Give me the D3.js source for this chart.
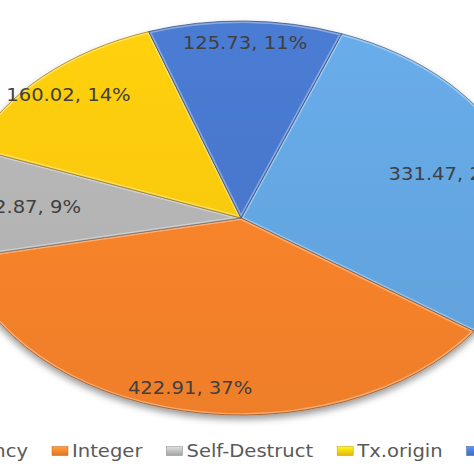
<!DOCTYPE html>
<html>
<head>
<meta charset="utf-8">
<script src="https://cdn.jsdelivr.net/npm/d3@7"></script>
<style>
  body { margin: 0; background: #fff; }
  text { font-family: "DejaVu Sans", Verdana, sans-serif; }
</style>
</head>
<body>
<div id="chart"></div>
<script>
var categories = ["Reentrancy", "Integer", "Self-Destruct", "Tx.origin", "Timestamp"];
var values = [331.47, 422.91, 102.87, 160.02, 125.73];
var colors = ["#64a7e3", "#f9832c", "#b5b5b5", "#ffca10", "#4878cd"];

// how far out each data label sits (fraction of radius), excel "best fit"
var labelFit = [0.77, 0.88, 0.76, 0.87, 0.89];

var width = 474, height = 474;
var cx = 241, cy = 218;
var rx = 285, ry = 197;
var stretch = 1.12;   // the picture is wider than tall, text too
var startAngle = 20.7 * Math.PI / 180;

var total = d3.sum(values);
var fmtVal = d3.format(".2f"),
    fmtPct = d3.format(".0%");

var data = categories.map(function(c, i) {
  return {name: c, value: values[i], color: colors[i], fit: labelFit[i]};
});

var svg = d3.select("#chart").append("svg")
    .attr("width", width)
    .attr("height", height);

var defs = svg.append("defs");

var shadow = defs.append("filter")
    .attr("id", "shadow")
    .attr("x", "-20%").attr("y", "-20%")
    .attr("width", "140%").attr("height", "140%");
shadow.append("feDropShadow")
    .attr("dx", 0).attr("dy", 4)
    .attr("stdDeviation", 3.5)
    .attr("flood-color", "#000")
    .attr("flood-opacity", 0.4);

data.forEach(function(d, i) {
  var g = defs.append("linearGradient")
      .attr("id", "grad" + i)
      .attr("gradientUnits", "userSpaceOnUse")
      .attr("x1", 0).attr("y1", -rx)
      .attr("x2", 0).attr("y2", rx);
  g.append("stop").attr("offset", "0%").attr("stop-color", d3.color(d.color).brighter(0.1));
  g.append("stop").attr("offset", "100%").attr("stop-color", d3.color(d.color).darker(0.12));

  var m = defs.append("linearGradient")
      .attr("id", "mark" + i)
      .attr("x1", 0).attr("y1", 0).attr("x2", 0).attr("y2", 1);
  m.append("stop").attr("offset", "0%").attr("stop-color", d3.color(d.color).brighter(0.6));
  m.append("stop").attr("offset", "100%").attr("stop-color", d3.color(d.color).darker(0.3));
});

var pie = d3.pie()
    .sort(null)
    .value(function(d) { return d.value; })
    .startAngle(startAngle)
    .endAngle(startAngle + 2 * Math.PI);

var arc = d3.arc()
    .innerRadius(0)
    .outerRadius(rx);

var arcs = pie(data);

var outer = svg.append("g")
    .attr("transform", "translate(" + cx + "," + cy + ")")
    .attr("filter", "url(#shadow)");

var pieG = outer.append("g")
    .attr("transform", "scale(1," + (ry / rx) + ")");

arcs.forEach(function(d, i) {
  defs.append("clipPath")
      .attr("id", "clip" + i)
      .append("path")
      .attr("d", arc(d));
});

var slice = pieG.selectAll(".slice")
    .data(arcs)
  .enter().append("g")
    .attr("class", "slice");

slice.append("path")
    .attr("d", arc)
    .attr("fill", function(d, i) { return "url(#grad" + i + ")"; });

// soft bevel rim inside each slice
slice.append("path")
    .attr("d", arc)
    .attr("fill", "none")
    .attr("clip-path", function(d, i) { return "url(#clip" + i + ")"; })
    .attr("stroke", "#fff")
    .attr("stroke-opacity", 0.35)
    .attr("stroke-width", 4)
    .attr("vector-effect", "non-scaling-stroke");

slice.append("path")
    .attr("d", arc)
    .attr("fill", "none")
    .attr("stroke", function(d) { return d3.color(d.data.color).darker(1.4); })
    .attr("stroke-opacity", 0.75)
    .attr("stroke-width", 1)
    .attr("vector-effect", "non-scaling-stroke");

// data labels
var labels = svg.append("g")
    .attr("transform", "translate(" + cx + "," + cy + ")");

labels.selectAll("g")
    .data(arcs)
  .enter().append("g")
    .attr("transform", function(d) {
      var r = rx * d.data.fit;
      var c = d3.arc().innerRadius(r).outerRadius(r).centroid(d);
      return "translate(" + c[0] + "," + (c[1] * ry / rx) + ") scale(" + stretch + ",1)";
    })
  .append("text")
    .attr("text-anchor", "middle")
    .attr("dy", "0.36em")
    .attr("fill", "#404040")
    .style("font-size", "17.5px")
    .text(function(d) { return fmtVal(d.value) + ", " + fmtPct(d.value / total); });

// legend
var legend = svg.append("g").attr("class", "legend");
var markW = 16, markH = 9, markGap = 4, itemGap = 24;

var items = legend.selectAll("g")
    .data(data)
  .enter().append("g");

items.append("rect")
    .attr("width", markW)
    .attr("height", markH)
    .attr("y", -markH / 2)
    .attr("fill", function(d, i) { return "url(#mark" + i + ")"; })
    .attr("stroke", function(d) { return d3.color(d.color).darker(0.8); })
    .attr("stroke-width", 0.5);

items.append("text")
    .attr("transform", "translate(" + (markW + markGap) + ",0) scale(" + stretch + ",1)")
    .attr("dy", "0.36em")
    .attr("fill", "#595959")
    .style("font-size", "17.5px")
    .text(function(d) { return d.name; });

var widths = [];
items.selectAll("text").each(function() {
  widths.push(this.getComputedTextLength() * stretch);
});

// second entry's marker lands at x=52, the rest follow on
var xs = [], x = 0;
widths.forEach(function(w, i) {
  xs.push(x);
  x += markW + markGap + w + itemGap;
});
var shift = 52 - xs[1];

items.attr("transform", function(d, i) {
  return "translate(" + (xs[i] + shift) + ",451)";
});
</script>
</body>
</html>
